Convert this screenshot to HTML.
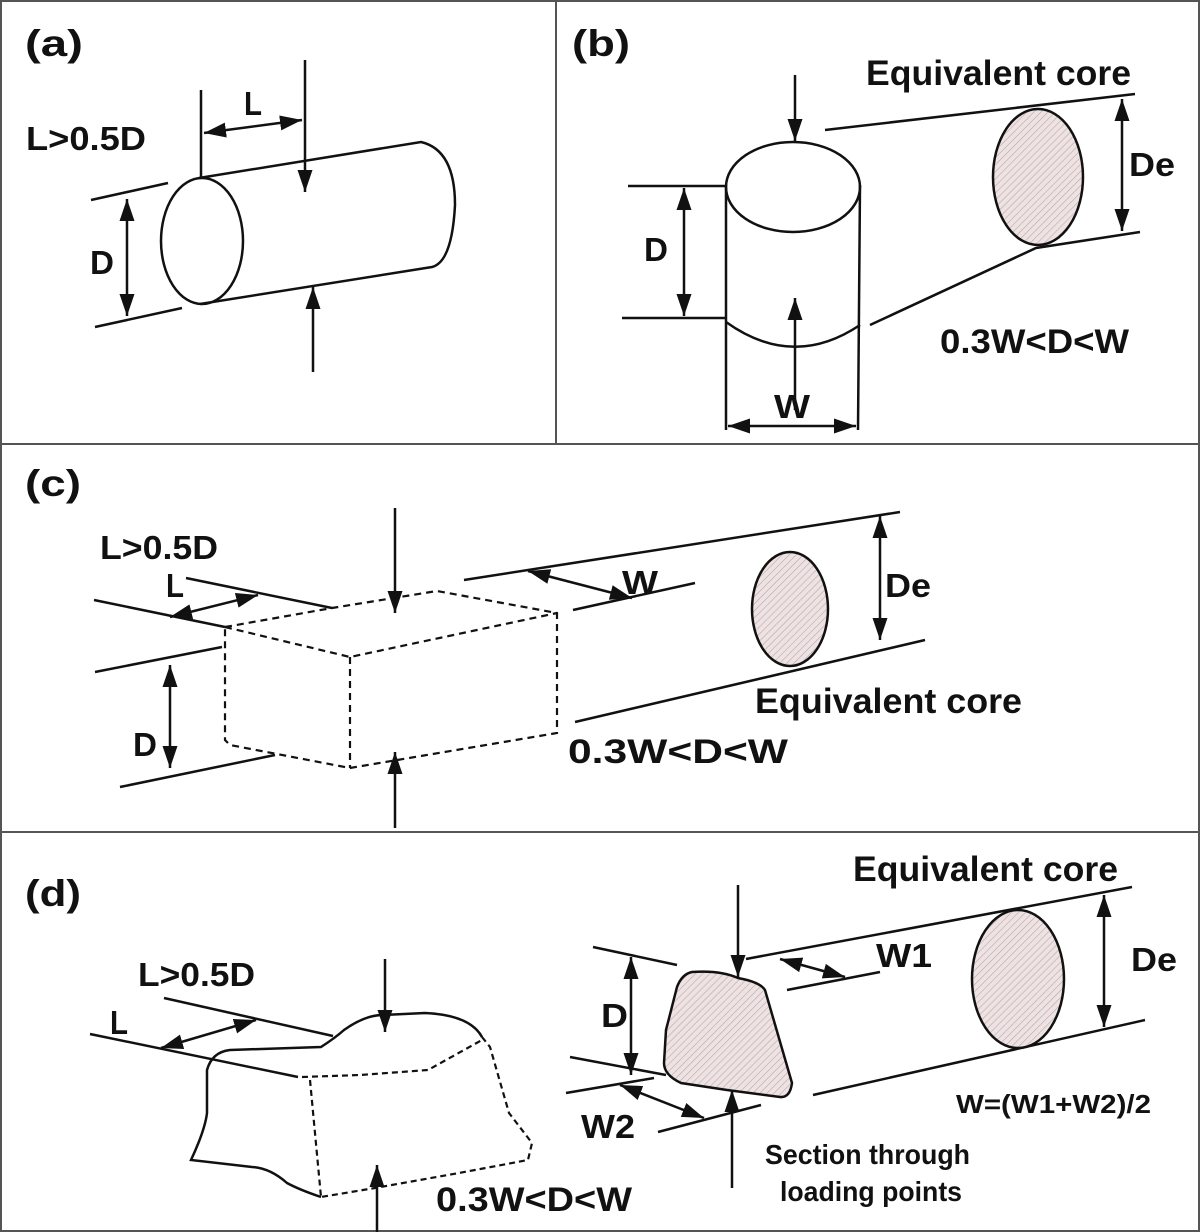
<!DOCTYPE html>
<html><head><meta charset="utf-8"><style>
html,body{margin:0;padding:0;background:#fff;}
svg{display:block;}
text{font-family:"Liberation Sans",sans-serif;font-weight:bold;fill:#111;}
</style></head><body>
<svg width="1200" height="1232" viewBox="0 0 1200 1232" xmlns="http://www.w3.org/2000/svg">
<defs>
<marker id="ah" markerUnits="userSpaceOnUse" markerWidth="24" markerHeight="18" refX="22" refY="9" orient="auto-start-reverse">
<path d="M0,1.5 L22,9 L0,16.5 Z" fill="#111"/>
</marker>
<pattern id="hatch" width="5" height="5" patternUnits="userSpaceOnUse" patternTransform="rotate(45)">
<rect width="5" height="5" fill="#eee2e2"/>
<line x1="0" y1="0" x2="0" y2="5" stroke="#b8aaaa" stroke-width="1.2"/>
</pattern>
</defs>
<rect x="1" y="1" width="1198" height="1230" fill="none" stroke="#555" stroke-width="2"/>
<line x1="0" y1="444" x2="1200" y2="444" stroke="#555" stroke-width="2"/>
<line x1="0" y1="832" x2="1200" y2="832" stroke="#555" stroke-width="2"/>
<line x1="556" y1="0" x2="556" y2="444" stroke="#555" stroke-width="2"/>

<g stroke="#111" stroke-width="2.5" fill="none">
<!-- (a) -->
<ellipse cx="202" cy="241" rx="41" ry="63"/>
<path d="M199,178 L421,142 Q455,150 455,205 Q452,262 432,267 L200,304"/>
<line x1="91" y1="200" x2="168" y2="183"/>
<line x1="95" y1="327" x2="182" y2="308"/>
<line x1="127" y1="199" x2="127" y2="316" marker-start="url(#ah)" marker-end="url(#ah)"/>
<line x1="201" y1="90" x2="201" y2="178"/>
<line x1="305" y1="60" x2="305" y2="192" marker-end="url(#ah)"/>
<line x1="204" y1="133" x2="302" y2="120" marker-start="url(#ah)" marker-end="url(#ah)"/>
<line x1="313" y1="372" x2="313" y2="287" marker-end="url(#ah)"/>

<!-- (b) -->
<ellipse cx="793" cy="187" rx="67" ry="45"/>
<line x1="726" y1="185" x2="726" y2="430"/>
<line x1="860" y1="185" x2="858" y2="430"/>
<path d="M726,322 Q793,370 860,325"/>
<line x1="628" y1="186" x2="726" y2="186"/>
<line x1="622" y1="318" x2="726" y2="318"/>
<line x1="684" y1="188" x2="684" y2="316" marker-start="url(#ah)" marker-end="url(#ah)"/>
<line x1="728" y1="426" x2="856" y2="426" marker-start="url(#ah)" marker-end="url(#ah)"/>
<line x1="795" y1="75" x2="795" y2="141" marker-end="url(#ah)"/>
<line x1="795" y1="410" x2="795" y2="298" marker-end="url(#ah)"/>
<line x1="825" y1="130" x2="1135" y2="94"/>
<path d="M870,325 L1036,248 L1140,232"/>
<ellipse cx="1038" cy="177" rx="45" ry="68" fill="url(#hatch)"/>
<line x1="1122" y1="99" x2="1122" y2="231" marker-start="url(#ah)" marker-end="url(#ah)"/>

<!-- (c) -->
<line x1="94" y1="600" x2="225" y2="627"/>
<line x1="186" y1="578" x2="332" y2="608"/>
<line x1="95" y1="672" x2="222" y2="647"/>
<line x1="120" y1="787" x2="275" y2="755"/>
<line x1="170" y1="617" x2="258" y2="595" marker-start="url(#ah)" marker-end="url(#ah)"/>
<line x1="170" y1="665" x2="170" y2="768" marker-start="url(#ah)" marker-end="url(#ah)"/>
<g stroke-dasharray="7,5" stroke-width="2.2">
<path d="M225,627 L332,608 L437,591 L557,613 L557,733 L350,768 L230,745 L225,740 Z"/>
<path d="M225,627 L350,657 L557,613"/>
<line x1="350" y1="657" x2="350" y2="768"/>
</g>
<line x1="395" y1="508" x2="395" y2="613" marker-end="url(#ah)"/>
<line x1="395" y1="828" x2="395" y2="752" marker-end="url(#ah)"/>
<line x1="464" y1="580" x2="900" y2="512"/>
<line x1="575" y1="722" x2="925" y2="640"/>
<line x1="573" y1="610" x2="695" y2="583"/>
<line x1="528" y1="571" x2="632" y2="598" marker-start="url(#ah)" marker-end="url(#ah)"/>
<ellipse cx="790" cy="609" rx="38" ry="57" fill="url(#hatch)"/>
<line x1="880" y1="516" x2="880" y2="640" marker-start="url(#ah)" marker-end="url(#ah)"/>

<!-- (d) -->
<line x1="164" y1="998" x2="333" y2="1036"/>
<line x1="90" y1="1034" x2="298" y2="1077"/>
<line x1="161" y1="1048" x2="256" y2="1020" marker-start="url(#ah)" marker-end="url(#ah)"/>
<path d="M321,1197 Q300,1190 287,1183 Q270,1168 252,1167 L191,1160 Q205,1130 207,1113 L207,1070 Q212,1052 230,1050 L321,1047 Q335,1038 344,1030 Q365,1015 383,1015 L425,1013 Q470,1015 482,1037"/>
<g stroke-dasharray="6,4" stroke-width="2.2">
<path d="M302,1077 L360,1075 L428,1070 L482,1040"/>
<path d="M482,1037 L490,1047 L509,1113 L532,1143 L528,1160 L459,1173 L375,1188 L321,1197"/>
<line x1="310" y1="1080" x2="321" y2="1197"/>
</g>
<line x1="385" y1="959" x2="385" y2="1032" marker-end="url(#ah)"/>
<line x1="377" y1="1232" x2="377" y2="1165" marker-end="url(#ah)"/>

<path d="M692,972 Q720,970 738,978 Q760,982 765,990 L792,1083 Q790,1098 780,1097 L727,1090 L681,1083 Q664,1075 664,1063 L666,1030 L677,987 Q682,974 692,972 Z" fill="url(#hatch)"/>
<line x1="593" y1="947" x2="677" y2="965"/>
<line x1="570" y1="1057" x2="666" y2="1075"/>
<line x1="566" y1="1093" x2="654" y2="1078"/>
<line x1="658" y1="1132" x2="761" y2="1105"/>
<line x1="631" y1="957" x2="631" y2="1075" marker-start="url(#ah)" marker-end="url(#ah)"/>
<line x1="620" y1="1085" x2="704" y2="1118" marker-start="url(#ah)" marker-end="url(#ah)"/>
<line x1="738" y1="885" x2="738" y2="977" marker-end="url(#ah)"/>
<line x1="732" y1="1188" x2="732" y2="1090" marker-end="url(#ah)"/>
<line x1="746" y1="959" x2="1132" y2="887"/>
<line x1="787" y1="990" x2="880" y2="972"/>
<line x1="780" y1="959" x2="845" y2="977" marker-start="url(#ah)" marker-end="url(#ah)"/>
<line x1="813" y1="1095" x2="1145" y2="1020"/>
<ellipse cx="1018" cy="979" rx="46" ry="69" fill="url(#hatch)"/>
<line x1="1104" y1="895" x2="1104" y2="1027" marker-start="url(#ah)" marker-end="url(#ah)"/>
</g>

<!-- text -->
<text x="25" y="56" font-size="37" textLength="58" lengthAdjust="spacingAndGlyphs">(a)</text>
<text x="26" y="150" font-size="33" textLength="120" lengthAdjust="spacingAndGlyphs">L&gt;0.5D</text>
<text x="244" y="115" font-size="33" textLength="18" lengthAdjust="spacingAndGlyphs">L</text>
<text x="90" y="274" font-size="33" textLength="24" lengthAdjust="spacingAndGlyphs">D</text>

<text x="572" y="56" font-size="37" textLength="58" lengthAdjust="spacingAndGlyphs">(b)</text>
<text x="866" y="85" font-size="35" textLength="265" lengthAdjust="spacingAndGlyphs">Equivalent core</text>
<text x="644" y="261" font-size="33" textLength="24" lengthAdjust="spacingAndGlyphs">D</text>
<text x="1129" y="176" font-size="33" textLength="46" lengthAdjust="spacingAndGlyphs">De</text>
<text x="940" y="353" font-size="34" textLength="189" lengthAdjust="spacingAndGlyphs">0.3W&lt;D&lt;W</text>
<text x="774" y="418" font-size="33" textLength="36" lengthAdjust="spacingAndGlyphs">W</text>

<text x="25" y="496" font-size="37" textLength="56" lengthAdjust="spacingAndGlyphs">(c)</text>
<text x="100" y="559" font-size="33" textLength="118" lengthAdjust="spacingAndGlyphs">L&gt;0.5D</text>
<text x="166" y="597" font-size="33" textLength="18" lengthAdjust="spacingAndGlyphs">L</text>
<text x="133" y="756" font-size="33" textLength="24" lengthAdjust="spacingAndGlyphs">D</text>
<text x="622" y="594" font-size="33" textLength="36" lengthAdjust="spacingAndGlyphs">W</text>
<text x="885" y="597" font-size="33" textLength="46" lengthAdjust="spacingAndGlyphs">De</text>
<text x="755" y="713" font-size="35" textLength="267" lengthAdjust="spacingAndGlyphs">Equivalent core</text>
<text x="568" y="763" font-size="34" textLength="220" lengthAdjust="spacingAndGlyphs">0.3W&lt;D&lt;W</text>

<text x="25" y="906" font-size="37" textLength="56" lengthAdjust="spacingAndGlyphs">(d)</text>
<text x="853" y="881" font-size="35" textLength="265" lengthAdjust="spacingAndGlyphs">Equivalent core</text>
<text x="138" y="986" font-size="33" textLength="117" lengthAdjust="spacingAndGlyphs">L&gt;0.5D</text>
<text x="110" y="1034" font-size="33" textLength="18" lengthAdjust="spacingAndGlyphs">L</text>
<text x="601" y="1027" font-size="33" textLength="27" lengthAdjust="spacingAndGlyphs">D</text>
<text x="876" y="967" font-size="33" textLength="56" lengthAdjust="spacingAndGlyphs">W1</text>
<text x="1131" y="971" font-size="33" textLength="46" lengthAdjust="spacingAndGlyphs">De</text>
<text x="581" y="1138" font-size="33" textLength="54" lengthAdjust="spacingAndGlyphs">W2</text>
<text x="956" y="1113" font-size="26" textLength="195" lengthAdjust="spacingAndGlyphs">W=(W1+W2)/2</text>
<text x="765" y="1164" font-size="28" textLength="205" lengthAdjust="spacingAndGlyphs">Section through</text>
<text x="780" y="1201" font-size="28" textLength="182" lengthAdjust="spacingAndGlyphs">loading points</text>
<text x="436" y="1211" font-size="34" textLength="196" lengthAdjust="spacingAndGlyphs">0.3W&lt;D&lt;W</text>
</svg>
</body></html>
